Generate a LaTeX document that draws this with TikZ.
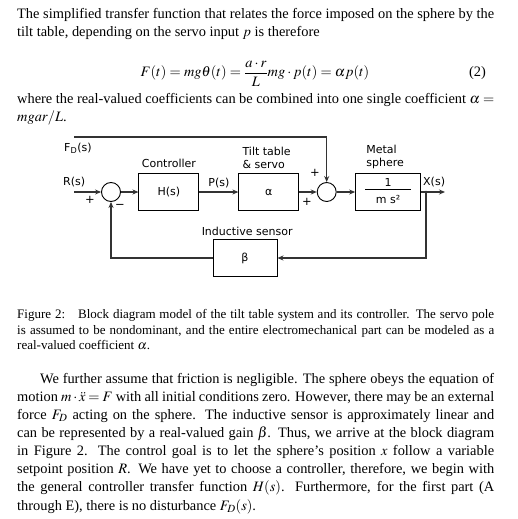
\documentclass[tikz,border=0pt]{standalone}
\usepackage{mathptmx}
\usepackage[no-math]{fontspec}
\setmainfont{Liberation Serif}
\newfontfamily\diagfont{DejaVu Sans}
\usetikzlibrary{arrows.meta, positioning}
\setlength\arrayrulewidth{0.8pt}
\newcommand\fullline[1]{\makebox[477pt][s]{#1}}

\begin{document}
\begin{tikzpicture}[x=1pt, y=-1pt,
  blk/.style={draw, line width=0.9pt, minimum width=60pt, minimum height=37pt,
              inner sep=0pt, font=\diagfont\fontsize{11}{13}\selectfont},
  sumc/.style={draw, circle, line width=0.9pt, minimum size=19pt, inner sep=0pt},
  lbl/.style={font=\diagfont\fontsize{11}{13}\selectfont, inner sep=0pt},
  sgn/.style={font=\diagfont\fontsize{11.5}{12}\selectfont, inner sep=0pt},
  sig/.style={draw=black!80, line width=1.1pt, -{Stealth[length=6pt,width=5pt]}},
  txt/.style={anchor=base west, inner sep=0pt, font=\fontsize{14.4}{18}\selectfont},
  captxt/.style={anchor=base west, inner sep=0pt, font=\fontsize{13}{15.5}\selectfont},
  node distance=17.5pt]
\useasboundingbox (0,0) rectangle (517,519);
% text above the figure
\node[txt] (t1) at (17,19) {\fullline{The simplified transfer function that relates the force imposed on the sphere by the}};
\node[txt] (t2) at (17,37) {tilt table, depending on the servo input $p$ is therefore};
\node[txt, anchor=base] (eq) at (255,77) {$\displaystyle F(t) = mg\theta(t) = \frac{a\cdot r}{L}mg\cdot p(t) = \alpha p(t)$};
\node[txt, anchor=base east] (eqno) at (486,77) {(2)};
\node[txt] (t3) at (17,103) {\fullline{where the real-valued coefficients can be combined into one single coefficient $\alpha =$}};
\node[txt] (t4) at (17,121) {$mgar/L$.};
% block diagram
\node[sumc] (s1) at (111,192) {};
\node[blk, right=of s1] (ctrl) {H(s)};
\node[blk, right=39pt of ctrl] (tilt) {α};
\node[sumc, right=of tilt] (s2) {};
\node[blk, right=18.5pt of s2, minimum width=65pt] (ball)
  {\begin{tabular}{@{}c@{}}\makebox[46pt]{1}\\[-1pt]\hline\rule{0pt}{13.5pt}m s²\end{tabular}};
\node[blk, minimum width=64pt] (sens) at (245,258) {β};
\node[lbl, above=5pt of ctrl] (ctrllbl) {Controller};
\node[lbl, align=left, anchor=south west] (tiltlbl) at ([xshift=4pt,yshift=4pt]tilt.north west) {Tilt table\\\& servo};
\node[lbl, align=left, anchor=south west] (balllbl) at ([xshift=11pt,yshift=4pt]ball.north west) {Metal\\sphere};
\node[lbl, anchor=south west] (senslbl) at ([xshift=-11pt,yshift=3pt]sens.north west) {Inductive sensor};
\node[lbl, anchor=west] (fdlbl) at (64,148) {F\textsubscript{D}(s)};
\node[lbl, anchor=west] (rlbl) at (63,182) {R(s)};
\node[lbl, anchor=west] (xlbl) at (423,182) {X(s)};
\node[sgn] (pl1) at (90,200) {+};
\node[sgn] (mi1) at (120,206) {−};
\node[sgn] (pl2) at (315,173) {+};
\node[sgn] (pl3) at (307,202) {+};
\coordinate (fdin) at (74,137);
\coordinate (rin) at (74,192);
\coordinate (br) at (426,192);
\coordinate (xout) at (445,192);
\draw[sig] (rin) -- (s1);
\draw[sig] (s1) -- (ctrl);
\draw[sig] (ctrl) -- node[lbl, above=4pt] (plbl) {P(s)} (tilt);
\draw[sig] (tilt) -- (s2);
\draw[sig] (fdin) -| (s2);
\draw[sig] (s2) -- (ball);
\draw[sig] (ball) -- (xout);
\fill[black!80] (br) circle (1.4pt);
\draw[sig] (br) |- (sens);
\draw[sig] (sens) -| (s1);
% caption
\node[captxt] (c1) at (17,318) {\fullline{Figure 2:\quad Block diagram model of the tilt table system and its controller. The servo pole}};
\node[captxt] (c2) at (17,334) {\fullline{is assumed to be nondominant, and the entire electromechanical part can be modeled as a}};
\node[captxt] (c3) at (17,349.5) {real-valued coefficient $\alpha$.};
% text below the figure
\node[txt] (q1) at (40,383.3) {\makebox[454pt][s]{We further assume that friction is negligible. The sphere obeys the equation of}};
\node[txt] (q2) at (17,401.4) {\fullline{motion $m\cdot\smash{\ddot{x}} = F$ with all initial conditions zero. However, there may be an external}};
\node[txt] (q3) at (17,419.5) {\fullline{force $F_D$ acting on the sphere. The inductive sensor is approximately linear and}};
\node[txt] (q4) at (17,437.6) {\fullline{can be represented by a real-valued gain $\beta$. Thus, we arrive at the block diagram}};
\node[txt] (q5) at (17,455.7) {\fullline{in Figure 2. The control goal is to let the sphere's position $x$ follow a variable}};
\node[txt] (q6) at (17,473.8) {\fullline{setpoint position $R$. We have yet to choose a controller, therefore, we begin with}};
\node[txt] (q7) at (17,491.9) {\fullline{the general controller transfer function $H(s)$. Furthermore, for the first part (A}};
\node[txt] (q8) at (17,510) {through E), there is no disturbance $F_D(s)$.};
\end{tikzpicture}
\end{document}
